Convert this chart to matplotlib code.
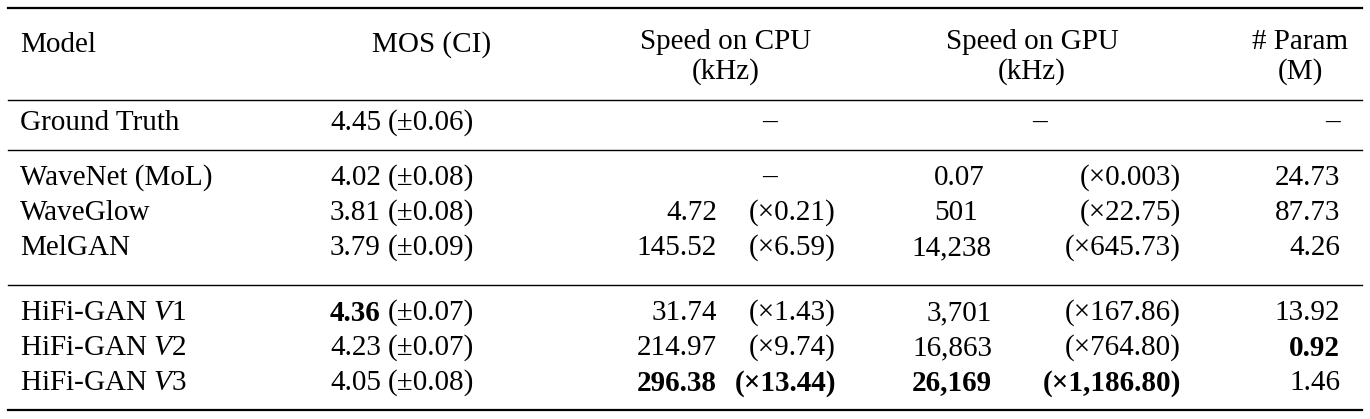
import matplotlib.pyplot as plt

plt.rcParams['font.family'] = ['Liberation Serif', 'DejaVu Serif']
plt.rcParams['mathtext.fontset'] = 'custom'
plt.rcParams['mathtext.rm'] = 'Liberation Serif'
plt.rcParams['mathtext.it'] = 'Liberation Serif:italic'
plt.rcParams['mathtext.bf'] = 'Liberation Serif:bold'

models = ['Ground Truth', 'WaveNet (MoL)', 'WaveGlow', 'MelGAN',
          r'HiFi-GAN $V$1', r'HiFi-GAN $V$2', r'HiFi-GAN $V$3']
mos = ['4.45', '4.02', '3.81', '3.79', '4.36', '4.23', '4.05']
mos_ci = ['0.06', '0.08', '0.08', '0.09', '0.07', '0.07', '0.08']
cpu_speed = [None, None, '4.72', '145.52', '31.74', '214.97', '296.38']
cpu_ratio = [None, None, '0.21', '6.59', '1.43', '9.74', '13.44']
gpu_speed = [None, '0.07', '501', '14,238', '3,701', '16,863', '26,169']
gpu_ratio = [None, '0.003', '22.75', '645.73', '167.86', '764.80', '1,186.80']
params = [None, '24.73', '87.73', '4.26', '13.92', '0.92', '1.46']
bold_mos = [4]
bold_cpu = [6]
bold_gpu = [6]
bold_param = [5]

fig = plt.figure(figsize=(13.7, 4.19), dpi=100)
ax = fig.add_axes([0, 0, 1, 1])
ax.set_xlim(0, 1370)
ax.set_ylim(419, 0)
ax.axis('off')

fs = 21
row_y = [123, 178, 213, 248, 313, 348, 383]

# rules
for y, lw in [(8, 1.6), (100, 1.0), (150, 1.0), (285, 1.0), (410, 1.6)]:
    ax.plot([8, 1362], [y, y], color='black', lw=lw)

# header
ax.text(20, 45, 'Model', fontsize=fs, va='center', ha='left')
ax.text(432, 45, 'MOS (CI)', fontsize=fs, va='center', ha='center')
for cx, name in [(726, 'Speed on CPU'), (1032, 'Speed on GPU')]:
    ax.text(cx, 42, name, fontsize=fs, va='center', ha='center')
    ax.text(cx, 72, '(kHz)', fontsize=fs, va='center', ha='center')
ax.text(1300, 42, '# Param', fontsize=fs, va='center', ha='center')
ax.text(1300, 72, '(M)', fontsize=fs, va='center', ha='center')

for i, y in enumerate(row_y):
    ax.text(20, y, models[i], fontsize=fs, va='center', ha='left')
    ax.text(330, y, mos[i], fontsize=fs, va='center', ha='left',
            weight='bold' if i in bold_mos else 'normal')
    ax.text(388, y, '(\u00b1' + mos_ci[i] + ')', fontsize=fs, va='center', ha='left')

    w = 'bold' if i in bold_cpu else 'normal'
    if cpu_speed[i] is None:
        ax.text(770, y, '\u2013', fontsize=fs, va='center', ha='center')
    else:
        ax.text(717, y, cpu_speed[i], fontsize=fs, va='center', ha='right', weight=w)
        ax.text(836, y, '(\u00d7' + cpu_ratio[i] + ')', fontsize=fs, va='center', ha='right', weight=w)

    w = 'bold' if i in bold_gpu else 'normal'
    if gpu_speed[i] is None:
        ax.text(1040, y, '\u2013', fontsize=fs, va='center', ha='center')
    else:
        ha, x = ('left', 934) if len(gpu_speed[i]) < 5 else ('right', 992)
        ax.text(x, y, gpu_speed[i], fontsize=fs, va='center', ha=ha, weight=w)
        ax.text(1181, y, '(\u00d7' + gpu_ratio[i] + ')', fontsize=fs, va='center', ha='right', weight=w)

    if params[i] is None:
        ax.text(1340, y, '\u2013', fontsize=fs, va='center', ha='right')
    else:
        ax.text(1340, y, params[i], fontsize=fs, va='center', ha='right',
                weight='bold' if i in bold_param else 'normal')

fig.savefig('out.png', dpi=100)
